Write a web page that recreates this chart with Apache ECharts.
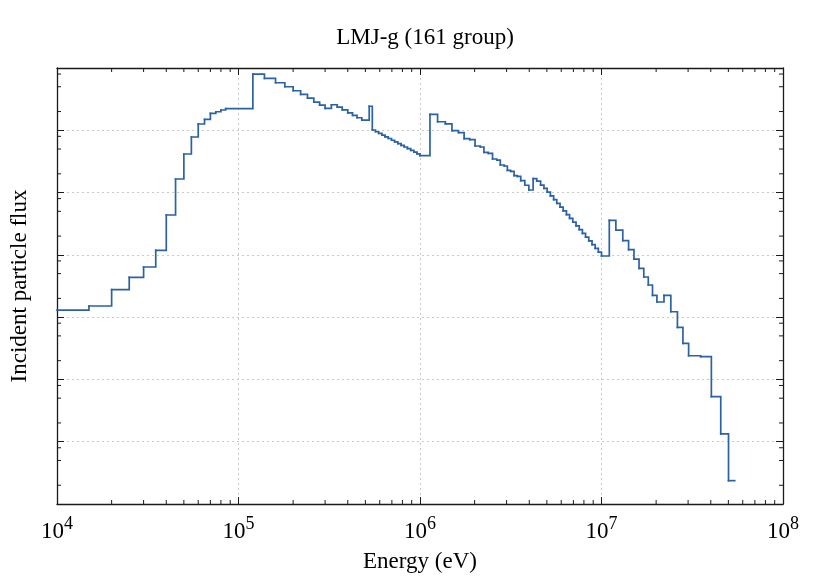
<!DOCTYPE html>
<html>
<head>
<meta charset="utf-8">
<script src="https://cdn.jsdelivr.net/npm/echarts@6/dist/echarts.min.js"></script>
<style>html,body{margin:0;padding:0;background:#fff}#c{width:825px;height:578px}</style>
</head>
<body>
<div id="c"></div>
<script>
// Group lower-bound energies (eV); last entry is the upper bound of the last group
const energy = [1e4, 1.5e4, 2e4, 2.5e4, 3e4, 3.5e4, 4e4, 4.5e4, 5e4, 5.5e4, 6e4, 6.5e4, 7e4, 7.5e4, 8e4, 8.5e4,
  1.2e5, 1.39e5, 1.6e5, 1.8e5, 2e5, 2.2e5, 2.4e5, 2.6e5, 2.8e5, 3.0e5, 3.25e5, 3.5e5, 3.73e5, 4e5, 4.25e5, 4.5e5, 4.78e5, 5.25e5,
  5.46e5, 5.69e5, 5.92e5, 6.17e5, 6.42e5, 6.69e5, 6.97e5, 7.25e5, 7.55e5, 7.87e5, 8.19e5, 8.53e5, 8.89e5, 9.26e5, 9.64e5, 1.0e6,
  1.135e6, 1.25e6, 1.38e6, 1.5e6, 1.63e6, 1.75e6, 1.88e6, 2.01e6, 2.15e6, 2.25e6, 2.38e6, 2.51e6, 2.65e6, 2.77e6, 2.91e6, 3.03e6,
  3.16e6, 3.3e6, 3.44e6, 3.59e6, 3.78e6, 3.98e6, 4.2e6, 4.4e6, 4.62e6, 4.82e6, 5.02e6, 5.23e6, 5.45e6, 5.67e6, 5.91e6, 6.15e6,
  6.41e6, 6.67e6, 6.95e6, 7.24e6, 7.54e6, 7.85e6, 8.17e6, 8.51e6, 8.87e6, 9.23e6, 9.61e6, 1.0e7,
  1.104e7, 1.2e7, 1.31e7, 1.41e7, 1.51e7, 1.61e7, 1.71e7, 1.81e7, 1.91e7, 2.02e7, 2.21e7, 2.41e7, 2.62e7, 2.81e7, 3.02e7, 3.52e7,
  4.03e7, 4.54e7, 5.01e7, 5.42e7];
// Flux per group (arbitrary units)
const flux = [1301, 1510, 2756, 4357, 6383, 11830, 43620, 165100, 415800, 779800, 1.261e6, 1.5e6, 1.871e6, 1.986e6, 2.115e6, 2.22e6,
  8.0e6, 6.82e6, 5.80e6, 5.0e6, 4.31e6, 3.78e6, 3.29e6, 2.84e6, 2.54e6, 2.25e6, 2.57e6, 2.36e6, 2.12e6, 1.91e6, 1.74e6, 1.59e6, 1.46e6, 2.43e6,
  1.01e6, 9.48e5, 8.91e5, 8.36e5, 7.85e5, 7.38e5, 6.92e5, 6.50e5, 6.11e5, 5.74e5, 5.39e5, 5.06e5, 4.75e5, 4.46e5, 4.19e5, 3.91e5,
  1.80e6, 1.37e6, 1.27e6, 9.84e5, 9.14e5, 7.32e5, 7.06e5, 5.59e5, 5.39e5, 4.43e5, 4.27e5, 3.46e5, 3.33e5, 2.77e5, 2.67e5, 2.28e5,
  2.19e5, 1.87e5, 1.82e5, 1.55e5, 1.31e5, 1.10e5, 1.67e5, 1.53e5, 1.32e5, 1.17e5, 1.02e5, 8.87e4, 7.71e4, 6.71e4, 5.85e4, 5.09e4,
  4.44e4, 3.85e4, 3.36e4, 2.92e4, 2.55e4, 2.22e4, 1.93e4, 1.68e4, 1.46e4, 1.27e4, 1.11e4, 9.58e3,
  3.59e4, 2.50e4, 1.69e4, 1.21e4, 8.57e3, 6.08e3, 4.41e3, 3.28e3, 2.24e3, 1.75e3, 2.24e3, 1.22e3, 687, 380, 240, 232,
  52.8, 13.4, 2.37, 2.37];

const xMin = 1e4, xMax = 1e8, yMin = 1, yMax = 1e7;
const xMinorTicks = [2e4,3e4,4e4,5e4,6e4,7e4,8e4,9e4, 2e5,3e5,4e5,5e5,6e5,7e5,8e5,9e5, 2e6,3e6,4e6,5e6,6e6,7e6,8e6,9e6, 2e7,3e7,4e7,5e7,6e7,7e7,8e7,9e7];
const yMinorTicks = [2,5,8, 20,50,80, 200,500,800, 2e3,5e3,8e3, 2e4,5e4,8e4, 2e5,5e5,8e5, 2e6,5e6,8e6];

const FONT = '"Liberation Serif", "DejaVu Serif", serif';
const AX = '#1a1a1a';
const LINE = '#2b62a4';
// one item per group: [E_low, flux, E_high, flux of next group]
const stepData = energy.slice(0, -1).map((e, i) => [e, flux[i], energy[i + 1], flux[i + 1]]);

const chart = echarts.init(document.getElementById('c'), null, {renderer: 'canvas'});

function axisBase(show) {
  return {
    type: 'log', logBase: 10,
    axisLine: {show: true, onZero: false, lineStyle: {color: AX, width: 1.3}},
    axisTick: {show: true, inside: true, length: 7, lineStyle: {color: AX, width: 1}},
    axisLabel: {show: false},
    splitLine: {show: show, lineStyle: {color: '#cacaca', type: [2, 3], width: 1}},
    minorTick: {show: false}
  };
}

const option = {
  animation: false,
  backgroundColor: '#fff',
  title: {
    text: 'LMJ-g (161 group)', left: 420, top: 21, textAlign: 'center',
    textStyle: {fontFamily: FONT, fontSize: 23, fontWeight: 'normal', color: '#000'}
  },
  grid: {left: 57, right: 42, top: 68, bottom: 74, containLabel: false},
  xAxis: [
    Object.assign(axisBase(true), {
      min: xMin, max: xMax, interval: 1, position: 'bottom',
      name: 'Energy (eV)', nameLocation: 'middle', nameGap: 46,
      nameTextStyle: {fontFamily: FONT, fontSize: 23, color: '#000'},
      axisLabel: {
        show: true, margin: 11, showMinLabel: true, showMaxLabel: true,
        formatter: v => '{b|10}{s|' + Math.round(Math.log10(v)) + '}',
        rich: {
          b: {fontFamily: FONT, fontSize: 23, color: '#000', verticalAlign: 'bottom', lineHeight: 28},
          s: {fontFamily: FONT, fontSize: 18, color: '#000', verticalAlign: 'top', lineHeight: 18}
        }
      }
    }),
    Object.assign(axisBase(false), {min: xMin, max: xMax, interval: 1, position: 'top'})
  ],
  yAxis: [
    Object.assign(axisBase(true), {
      min: yMin, max: yMax, interval: 1, position: 'left',
      name: 'Incident particle flux', nameLocation: 'middle', nameGap: 26, nameRotate: 90,
      nameTextStyle: {fontFamily: FONT, fontSize: 23, color: '#000'}
    }),
    Object.assign(axisBase(false), {min: yMin, max: yMax, interval: 1, position: 'right'})
  ],
  series: [
    {
      type: 'custom', name: 'flux', xAxisIndex: 0, yAxisIndex: 0, z: 5,
      data: stepData,
      renderItem: (params, api) => {
        const e0 = api.value(0), f0 = api.value(1), e1 = api.value(2), f1 = api.value(3);
        const p0 = api.coord([e0, f0]);
        const p1 = api.coord([e1, f0]);
        const p2 = api.coord([e1, f1]);
        return {
          type: 'polyline',
          shape: {points: [p0, p1, p2]},
          style: {stroke: LINE, lineWidth: 1.7, fill: null, lineJoin: 'miter', lineCap: 'square'}
        };
      }
    },
    {
      type: 'custom', silent: true, xAxisIndex: 0, yAxisIndex: 0, clip: false,
      data: xMinorTicks.map(v => [v, yMin]),
      renderItem: (params, api) => {
        const v = api.value(0);
        const pb = api.coord([v, yMin]);
        const pt = api.coord([v, yMax]);
        const st = {stroke: AX, lineWidth: 1};
        return {type: 'group', children: [
          {type: 'line', shape: {x1: pb[0], y1: pb[1], x2: pb[0], y2: pb[1] - 4}, style: st},
          {type: 'line', shape: {x1: pt[0], y1: pt[1], x2: pt[0], y2: pt[1] + 4}, style: st}
        ]};
      }
    },
    {
      type: 'custom', silent: true, xAxisIndex: 0, yAxisIndex: 0, clip: false,
      data: yMinorTicks.map(v => [xMin, v]),
      renderItem: (params, api) => {
        const v = api.value(1);
        const pl = api.coord([xMin, v]);
        const pr = api.coord([xMax, v]);
        const st = {stroke: AX, lineWidth: 1};
        return {type: 'group', children: [
          {type: 'line', shape: {x1: pl[0], y1: pl[1], x2: pl[0] + 4, y2: pl[1]}, style: st},
          {type: 'line', shape: {x1: pr[0], y1: pr[1], x2: pr[0] - 4, y2: pr[1]}, style: st}
        ]};
      }
    }
  ]
};
chart.setOption(option);
</script>
</body>
</html>
